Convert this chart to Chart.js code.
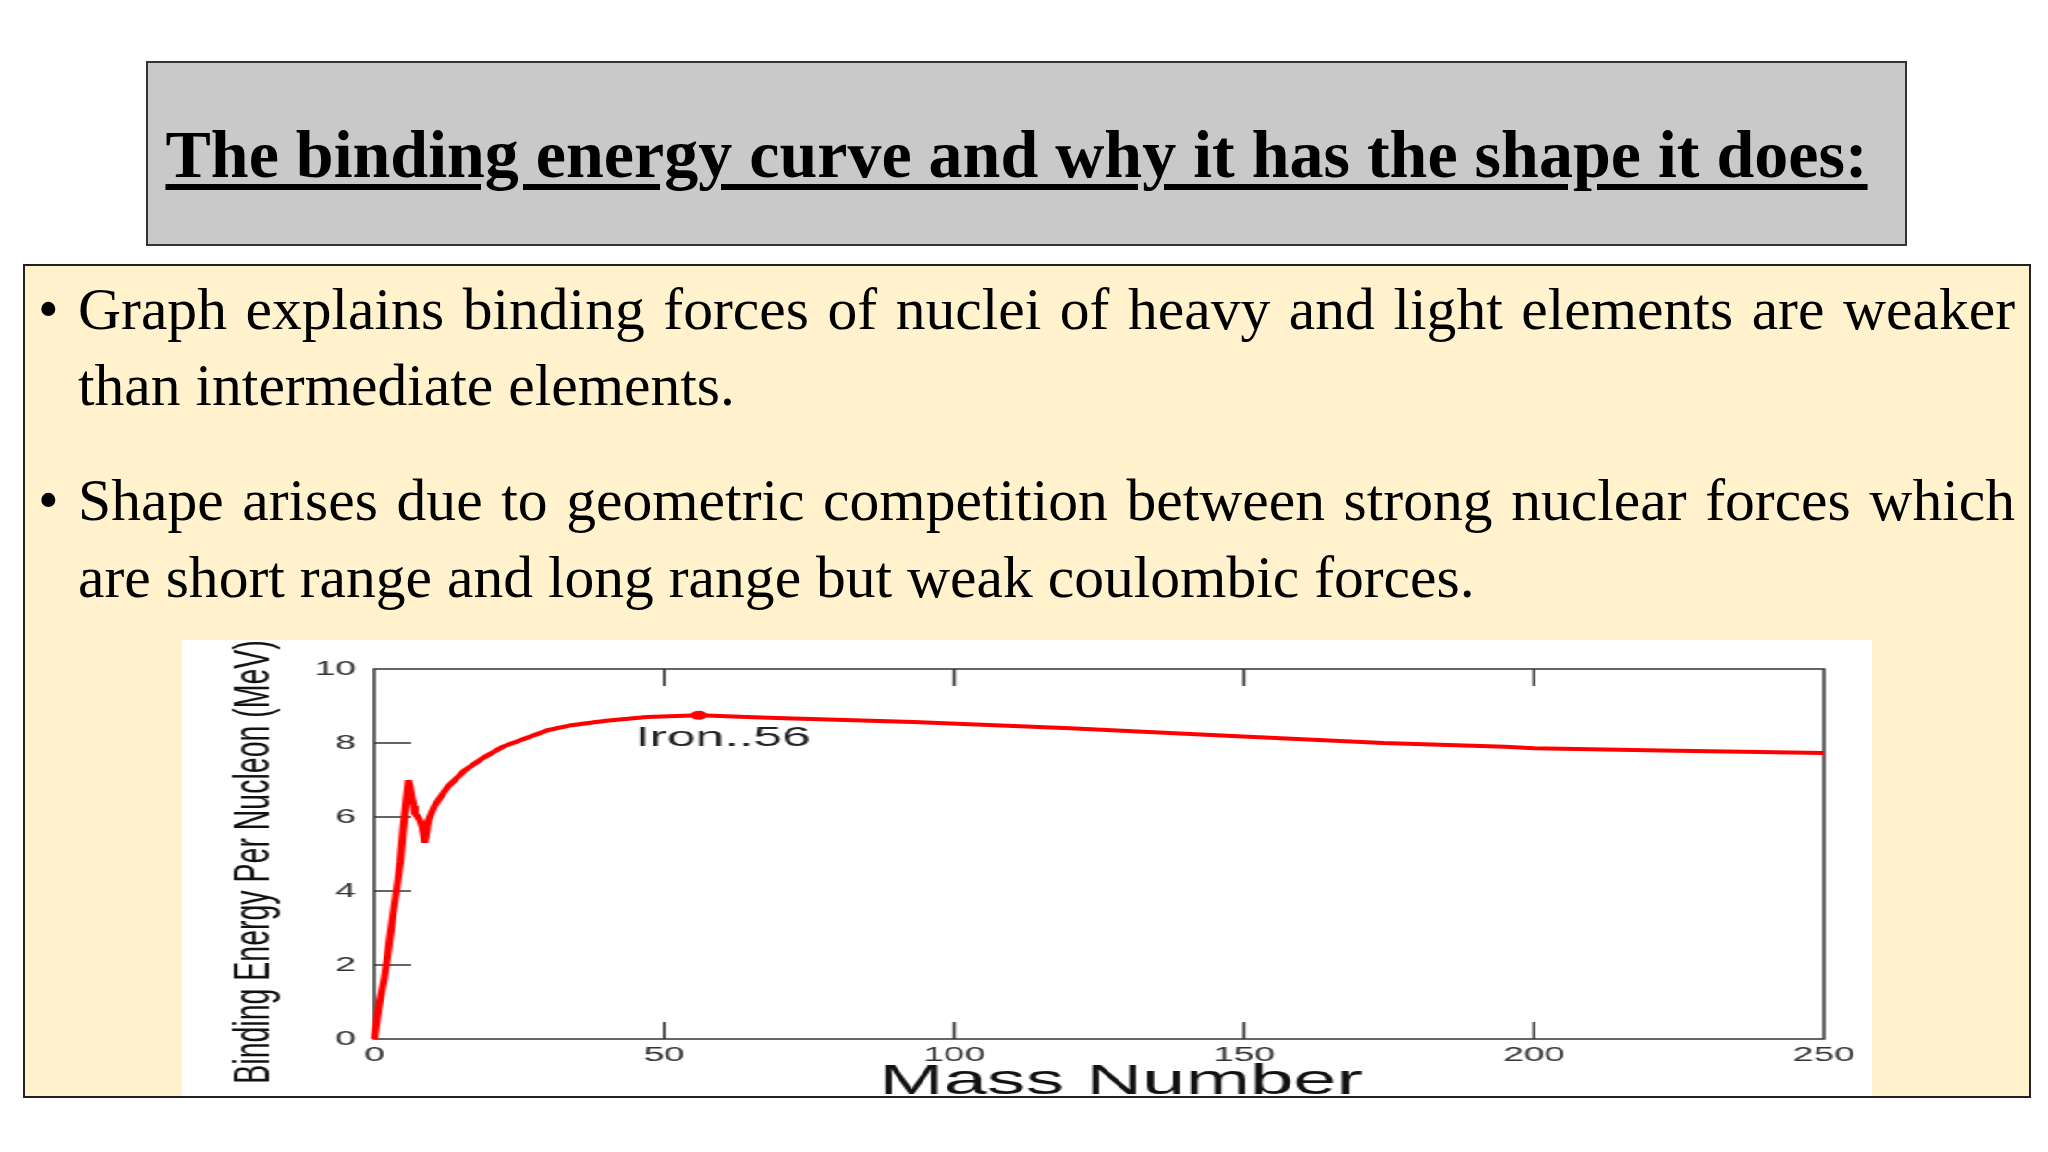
<!DOCTYPE html>
<html>
<head>
<meta charset="utf-8">
<script src="https://cdn.jsdelivr.net/npm/chart.js@4"></script>
<style>
  body { margin: 0; width: 2048px; height: 1152px; background: #fff; position: relative; overflow: hidden;
         font-family: "Liberation Serif", "Times New Roman", serif; }
  #titleBox { position: absolute; left: 146px; top: 61px; width: 1761px; height: 185px; box-sizing: border-box;
              background: #c9c9c9; border: 2px solid #333; }
  #title { position: absolute; left: -10px; width: 100%; top: 57px; text-align: center; font-weight: bold;
           font-size: 68px; line-height: 68px; color: #000; text-decoration: underline;
           text-decoration-thickness: 6px; text-underline-offset: 7px; }
  #textBox { position: absolute; left: 23px; top: 264px; width: 2008px; height: 834px; box-sizing: border-box;
             background: #fff2cc; border: 2px solid #222; }
  .line { position: absolute; left: 53px; width: 1937px; font-size: 59.6px; line-height: 59px; color: #000; }
  .just { text-align: justify; text-align-last: justify; }
  .bullet { position: absolute; left: 13px; font-size: 59px; line-height: 59px; }
  #chartWrap { position: absolute; left: 182px; top: 640px; width: 914px; height: 456px;
               transform-origin: 0 0; transform: scaleX(1.849); background: #fff; }
</style>
</head>
<body>
<div id="titleBox"><div id="title">The binding energy curve and why it has the shape it does:</div></div>
<div id="textBox">
  <div class="bullet" style="top:14px">•</div>
  <div class="line just" style="top:14px">Graph explains binding forces of nuclei of heavy and light elements are weaker</div>
  <div class="line" style="top:90px">than intermediate elements.</div>
  <div class="bullet" style="top:205px">•</div>
  <div class="line just" style="top:205px">Shape arises due to geometric competition between strong nuclear forces which</div>
  <div class="line" style="top:282px">are short range and long range but weak coulombic forces.</div>
</div>
<div id="chartWrap"><canvas id="chart"></canvas></div>
<script>
// mass number A and binding energy per nucleon (MeV)
var massNumber = [0, 0.8, 1.7, 2.5, 3.1, 3.9, 4.5, 5.0, 5.4, 5.9, 6.2, 6.4, 6.8, 7.0, 7.5, 7.9, 8.3, 8.7, 9.0,
                  9.3, 10.4, 12.6, 15.5, 18.8, 22.2, 25.6, 30, 34, 40, 47, 56, 68, 93, 120, 148, 174, 195, 200, 222, 250];
var bindingEnergy = [0, 0.9, 1.6, 2.5, 3.2, 4.1, 4.8, 5.7, 6.3, 7.0, 6.8, 6.6, 6.3, 6.1, 6.0, 5.9, 5.7, 5.3, 5.6,
                     5.9, 6.3, 6.8, 7.25, 7.6, 7.9, 8.1, 8.35, 8.48, 8.6, 8.7, 8.75, 8.68, 8.57, 8.4, 8.19, 8.0, 7.9, 7.86, 7.8, 7.73];

var ironMass = [56];
var ironEnergy = [8.75];
var ironLabel = 'Iron..56';

var xTicks = [0, 50, 100, 150, 200, 250];
var yTicks = [0, 2, 4, 6, 8, 10];

var labelFont = '"Liberation Sans", Arial, sans-serif';

var curve = massNumber.map(function (a, i) { return { x: a, y: bindingEnergy[i] }; });
var iron = ironMass.map(function (a, i) { return { x: a, y: ironEnergy[i] }; });

var framePlugin = {
  id: 'frame',
  beforeDatasetsDraw: function (chart) {
    var ctx = chart.ctx, a = chart.chartArea, x = chart.scales.x, y = chart.scales.y;
    ctx.save();
    ctx.strokeStyle = '#333';
    ctx.lineWidth = 1.5;
    ctx.strokeRect(a.left, a.top, a.right - a.left, a.bottom - a.top);
    ctx.beginPath();
    x.ticks.forEach(function (t, i) {
      if (t.value <= x.min || t.value >= x.max) return;
      var px = x.getPixelForTick(i);
      ctx.moveTo(px, a.bottom); ctx.lineTo(px, a.bottom - 17);
      ctx.moveTo(px, a.top); ctx.lineTo(px, a.top + 17);
    });
    y.ticks.forEach(function (t, i) {
      if (t.value <= y.min || t.value >= y.max) return;
      var py = y.getPixelForTick(i);
      ctx.moveTo(a.left, py); ctx.lineTo(a.left + 20, py);
    });
    ctx.stroke();
    // annotation under the iron point
    var ix = x.getPixelForValue(ironMass[0]), iy = y.getPixelForValue(ironEnergy[0]);
    ctx.font = '28px ' + labelFont;
    ctx.fillStyle = '#222';
    ctx.textAlign = 'center';
    ctx.textBaseline = 'middle';
    ctx.fillText(ironLabel, ix + 13, iy + 23);
    ctx.restore();
  }
};

new Chart(document.getElementById('chart'), {
  type: 'line',
  data: {
    datasets: [
      { data: curve, borderColor: '#ff0000', borderWidth: 4, pointRadius: 0, tension: 0, clip: false },
      { data: iron, showLine: false, pointRadius: 4.5, pointBackgroundColor: '#ff0000', pointBorderWidth: 0, clip: false }
    ]
  },
  options: {
    responsive: true,
    maintainAspectRatio: false,
    animation: false,
    layout: { padding: { left: 20, right: 26, top: 29, bottom: 0 } },
    plugins: { legend: { display: false }, tooltip: { enabled: false } },
    scales: {
      x: {
        type: 'linear', min: 0, max: 250,
        afterBuildTicks: function (s) { s.ticks = xTicks.map(function (v) { return { value: v }; }); },
        afterFit: function (s) { s.height = 57; },
        grid: { display: false, drawTicks: false },
        border: { display: false },
        ticks: { padding: 4, color: '#333', font: { family: labelFont, size: 20 } },
        title: { display: true, text: '\u00a0\u00a0Mass Number', color: '#111', padding: { top: 0, bottom: -3 },
                 font: { family: labelFont, size: 42, lineHeight: 0.8 } }
      },
      y: {
        type: 'linear', min: 0, max: 10,
        afterBuildTicks: function (s) { s.ticks = yTicks.map(function (v) { return { value: v }; }); },
        afterFit: function (s) { s.width = 84; },
        grid: { display: false, drawTicks: false },
        border: { display: false },
        ticks: { padding: 10, color: '#333', font: { family: labelFont, size: 20 } },
        title: { display: true, text: 'Binding Energy Per Nucleon (MeV)\u00a0\u00a0', color: '#111', padding: { top: 5, bottom: 0 },
                 font: { family: labelFont, size: 28.5, lineHeight: 1 } }
      }
    }
  },
  plugins: [framePlugin]
});
</script>
</body>
</html>
